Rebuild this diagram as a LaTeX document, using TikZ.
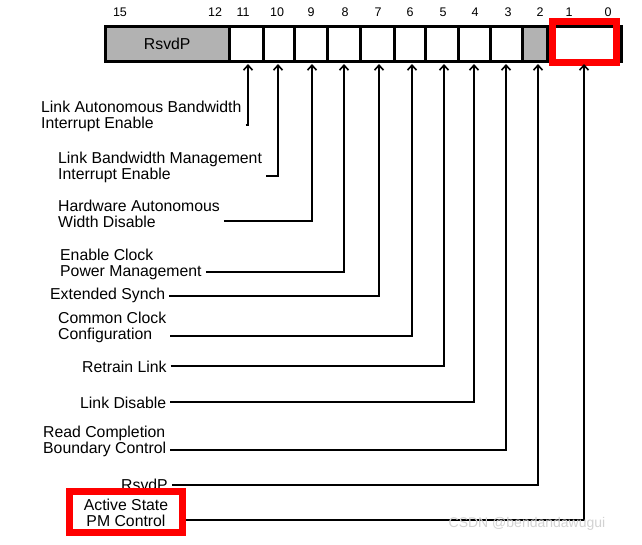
\documentclass[tikz,border=0pt]{standalone}
\usepackage{fontspec}
\setmainfont{Liberation Sans}
\usetikzlibrary{calc,arrows.meta}
\begin{document}
\begin{tikzpicture}[x=1pt,y=-1pt,
  lab/.style={anchor=south west,inner sep=0pt,align=left,font=\fontsize{15.8}{16}\selectfont},
  num/.style={font=\fontsize{12.5}{13}\selectfont},
  cellbox/.style={draw,line width=2.5pt,minimum height=35pt,anchor=north west,inner sep=0pt},
  arr/.style={line width=2pt,-{Straight Barb[length=5pt,width=9pt,line width=1.6pt]}},
  redbox/.style={draw=red,line width=7pt}]
\useasboundingbox (0,0) rectangle (642,544);
% register
\node[cellbox,fill=gray!60,minimum width=124pt,font=\fontsize{15.8}{16}\selectfont] (rs) at (104,25) {RsvdP};
\foreach \n/\a/\w in {b11/228/34,b10/262/31,b9/293/33,b8/326/33,b7/359/34,b6/393/31,b5/424/33,b4/457/32,b3/489/32}{
  \node[cellbox,fill=white,minimum width=\w pt] (\n) at (\a,25) {};}
\node[cellbox,fill=gray!60,minimum width=25pt] (b2) at (521,25) {};
\node[cellbox,fill=white,minimum width=74pt] (b10x) at (546,25) {};
% bit numbers
\foreach \t/\x in {15/120,12/215,11/243,10/277,9/311,8/345,7/378,6/410,5/443,4/475,3/508,2/540,1/569,0/608}{
  \node[num] (n\t) at (\x,12) {\t};}
% arrow targets
\foreach \n/\x in {11/248,10/278,9/312,8/344,7/379,6/412,5/444,4/474,3/506,2/538,1/584}{
  \coordinate (t\n) at (\x,64);}
% labels
\node[lab] (l11) at (41,132) {Link Autonomous Bandwidth\\Interrupt Enable};
\node[lab] (l10) at (58,183) {Link Bandwidth Management\\Interrupt Enable};
\node[lab] (l9) at (58,228) {Hardware Autonomous\\Width Disable};
\node[lab] (l8) at (60,280) {Enable Clock\\Power Management};
\node[lab] (l7) at (50,303) {Extended Synch};
\node[lab] (l6) at (58,343) {Common Clock\\Configuration};
\node[lab] (l5) at (82,373) {Retrain Link};
\node[lab] (l4) at (80,409) {Link Disable};
\node[lab] (l3) at (43,457) {Read Completion\\Boundary Control};
\node[lab] (l2) at (121,491) {RsvdP};
% connectors
\draw[arr] (l11.south east) ++(4,-7) -| (t11);
\draw[arr] (l10.south east) ++(4,-7) -| (t10);
\draw[arr] (l9.south east) ++(4,-7) -| (t9);
\draw[arr] (l8.south east) ++(4,-8) -| (t8);
\draw[arr] (l7.south east) ++(4,-7) -| (t7);
\draw[arr] (l6.south east) ++(4,-7) -| (t6);
\draw[arr] (l5.south east) ++(4,-7) -| (t5);
\draw[arr] (l4.south east) ++(4,-7) -| (t4);
\draw[arr] (l3.south east) ++(4,-7) -| (t3);
\draw[arr] (l2.south east) ++(4,-6) -| (t2);
% red highlights
\draw[redbox] (552.5,21.5) rectangle (616.5,62.5);
\draw[redbox,fill=white] (69.5,491.5) rectangle (182.5,532.5);
\node[lab,align=center,anchor=south] (l1) at (126,527) {Active State\\PM Control};
\draw[arr] (186,520) coordinate (s1) -| (t1);
\node[font=\fontsize{14}{15}\selectfont,text=gray!35] (wm) at (527,524) {CSDN @bendandawugui};
\end{tikzpicture}
\end{document}
